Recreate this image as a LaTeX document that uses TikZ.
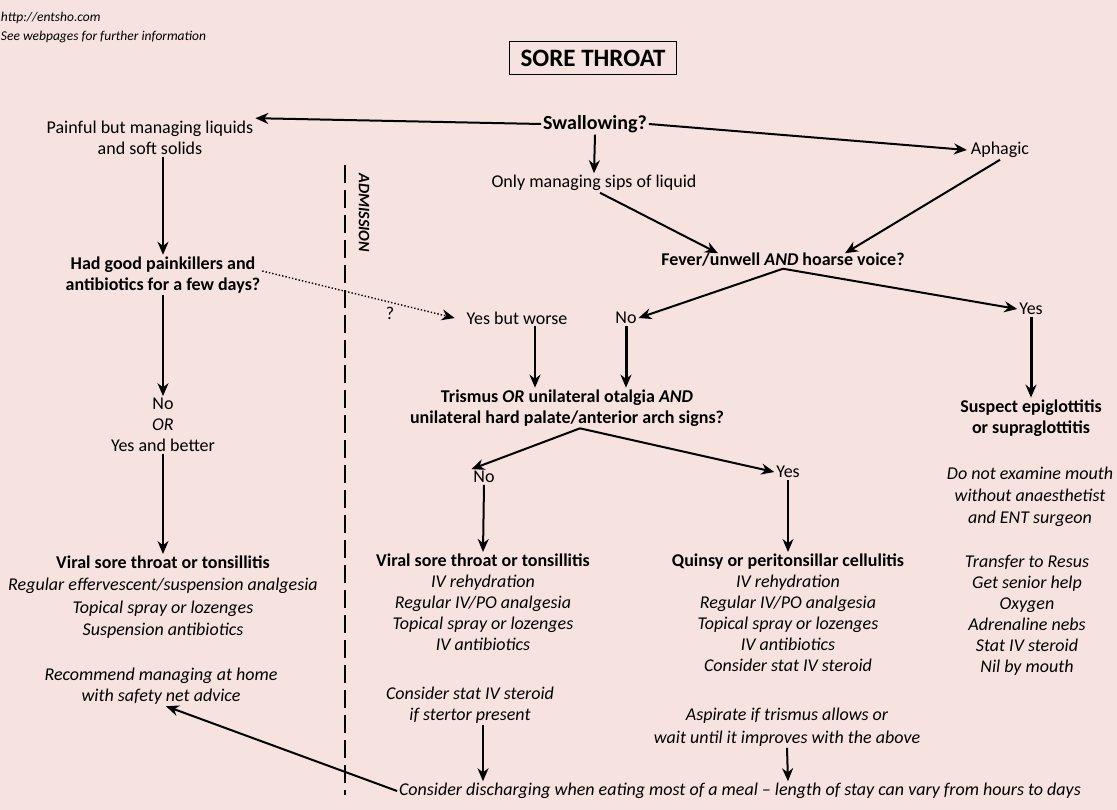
\documentclass[tikz,border=0pt]{standalone}
\usepackage{fontspec}
\setmainfont{Carlito}
\usetikzlibrary{arrows.meta}
\definecolor{bgpink}{RGB}{246,227,223}
\tikzset{
	every picture/.style={line width=2pt},
	txt/.style={align=center, inner sep=1pt, font=\fontsize{18}{21}\selectfont},
	bld/.style={txt, font=\fontsize{18}{21}\selectfont\bfseries},
	itl/.style={txt, font=\fontsize{18}{21}\selectfont\itshape},
	arr/.style={-{Stealth[length=13pt,width=11pt]}},
	bigarr/.style={arr, line width=3pt}}

\begin{document}
\begin{tikzpicture}[x=1pt,y=1pt,yscale=-1,xscale=1]
	\fill[bgpink] (0,0) rectangle (1117,810);
	\useasboundingbox (0,0) rectangle (1117,810);

	% Header
	\node[anchor=west, inner sep=0pt, font=\fontsize{13.5}{15}\selectfont\itshape] (url) at (0,18) {http://entsho.com};
	\node[anchor=west, inner sep=0pt, font=\fontsize{13.5}{15}\selectfont\itshape] (info) at (0,37) {See webpages for further information};
	\node[draw, line width=1.2pt, inner xsep=11pt, inner ysep=8pt, font=\fontsize{25}{28}\selectfont\bfseries] (title) at (593,58) {SORE THROAT};

	% Admission line
	\draw[line width=2.5pt, dash pattern=on 18pt off 7pt] (345,165) -- (345,795);
	\node[rotate=-90, font=\fontsize{16}{18}\selectfont\bfseries\itshape] (adm) at (364,213) {ADMISSION};

	% Text Nodes
	\node[bld] (swallow) at (595,124) {\fontsize{20}{22}\selectfont Swallowing?};
	\node[txt] (painful) at (150,138) {Painful but managing liquids\\and soft solids};
	\node[txt] (aphagic) at (1000,150) {Aphagic};
	\node[txt] (sips) at (594,183) {Only managing sips of liquid};
	\node[bld] (fever) at (783,260) {Fever/unwell \textit{AND} hoarse voice?};
	\node[bld] (hadgood) at (163,275) {Had good painkillers and\\antibiotics for a few days?};
	\node[txt] (qmark) at (390,313) {?};
	\node[txt] (yesworse) at (517,318) {Yes but worse};
	\node[txt] (noA) at (626,318) {No};
	\node[txt] (yesA) at (1031,309) {Yes};
	\node[bld] (trismus) at (567,408) {Trismus \textit{OR} unilateral otalgia \textit{AND}\\unilateral hard palate/anterior arch signs?};
	\node[bld] (suspect) at (1031,418) {Suspect epiglottitis\\or supraglottitis};
	\node[txt] (nobetter) at (163,425) {No\\\textit{OR}\\Yes and better};
	\node[txt] (noB) at (484,477) {No};
	\node[txt] (yesB) at (788,472) {Yes};
	\node[itl, font=\fontsize{18}{22}\selectfont\itshape] (donot) at (1030,497) {Do not examine mouth\\without anaesthetist\\and ENT surgeon};
	\node[itl] (resus) at (1027,615) {Transfer to Resus\\Get senior help\\Oxygen\\Adrenaline nebs\\Stat IV steroid\\Nil by mouth};
	\node[itl, font=\fontsize{18}{22.3}\selectfont\itshape, anchor=north] (viralA) at (163,554) {\textbf{\upshape Viral sore throat or tonsillitis}\\Regular effervescent/suspension analgesia\\Topical spray or lozenges\\Suspension antibiotics};
	\node[itl] (recommend) at (161,686) {Recommend managing at home\\with safety net advice};
	\node[itl, anchor=north] (viralB) at (483,552) {\textbf{\upshape Viral sore throat or tonsillitis}\\IV rehydration\\Regular IV/PO analgesia\\Topical spray or lozenges\\IV antibiotics};
	\node[itl] (stertor) at (470,705) {Consider stat IV steroid\\if stertor present};
	\node[itl, anchor=north] (quinsy) at (788,552) {\textbf{\upshape Quinsy or peritonsillar cellulitis}\\IV rehydration\\Regular IV/PO analgesia\\Topical spray or lozenges\\IV antibiotics\\Consider stat IV steroid};
	\node[itl, font=\fontsize{18}{22.5}\selectfont\itshape] (aspirate) at (787,727) {Aspirate if trismus allows or\\wait until it improves with the above};
	\node[itl] (discharge) at (740,791) {Consider discharging when eating most of a meal -- length of stay can vary from hours to days};

	% Connectors
	\draw[arr] (swallow.west) -- ([yshift=-1pt]painful.north east);
	\draw[arr] (swallow.east) -- ([xshift=-2pt]aphagic.west);
	\draw[arr] (swallow.south) -- (sips.north);
	\draw[arr] ([xshift=6pt]sips.south) -- ([xshift=-65pt,yshift=2pt]fever.north);
	\draw[arr] (aphagic.south) -- ([xshift=62pt,yshift=2pt]fever.north);
	\draw[arr] ([xshift=13pt]painful.south) -- (hadgood.north);
	\draw[arr, line width=1.4pt, dotted] ([yshift=-4pt]hadgood.east) -- ([xshift=-10pt]yesworse.west);
	\draw[arr] (fever.south) -- (noA.east);
	\draw[arr] (fever.south) -- (yesA.west);
	\draw[arr] ([xshift=18pt]yesworse.south) -- ([xshift=-32pt]trismus.north);
	\draw[bigarr] (noA.south) -- ([xshift=59pt]trismus.north);
	\draw[bigarr] (yesA.south) -- (suspect.north);
	\draw[arr] (hadgood.south) -- (nobetter.north);
	\draw[arr] (nobetter.south) -- (viralA.north);
	\draw[arr] ([xshift=13pt]trismus.south) -- (noB.north west);
	\draw[arr] ([xshift=13pt]trismus.south) -- (yesB.west);
	\draw[arr] (noB.south) -- (viralB.north);
	\draw[arr] (yesB.south) -- (quinsy.north);
	\draw[arr] ([xshift=13pt]stertor.south) -- ([xshift=-257pt]discharge.north);
	\draw[arr] (aspirate.south) -- ([xshift=48pt]discharge.north);
	\draw[arr] (discharge.west) -- ([xshift=5pt]recommend.south);
\end{tikzpicture}
\end{document}
